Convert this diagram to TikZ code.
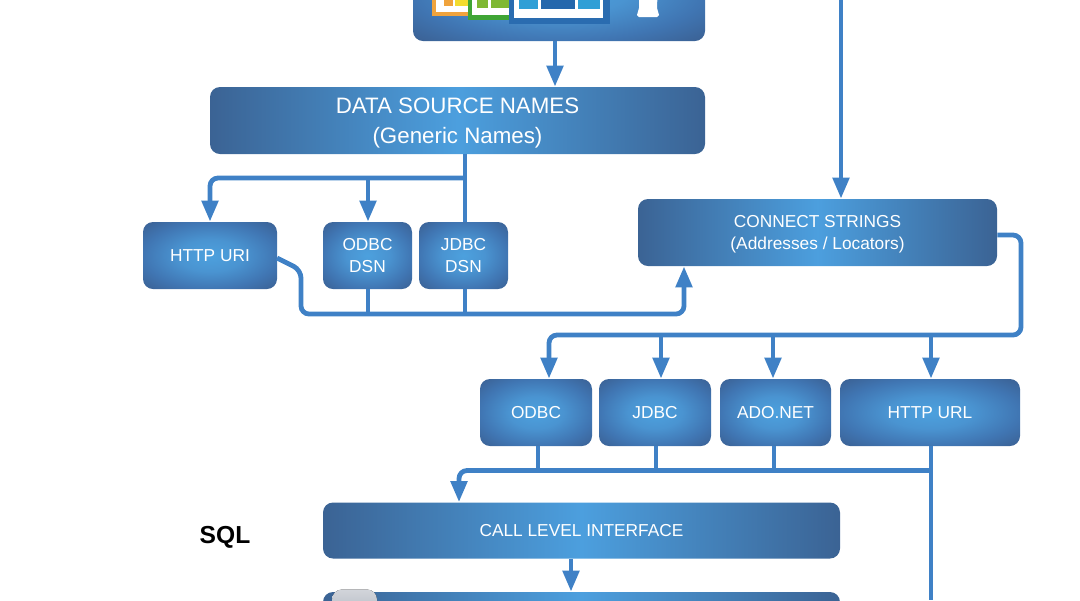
\documentclass[tikz,border=0pt]{standalone}
\usepackage{fontspec}
\setmainfont{Liberation Sans}
\usetikzlibrary{arrows.meta}

\newcommand{\px}{0.02cm}
\definecolor{boxdark}{HTML}{3B6394}
\definecolor{boxlight}{HTML}{4C9FDE}
\definecolor{linkblue}{HTML}{3F81C6}
\definecolor{iconorange}{HTML}{F0A33C}
\definecolor{iconyellow}{HTML}{F3DC2E}
\definecolor{icongreen}{HTML}{3FA535}
\definecolor{iconlime}{HTML}{7FB833}
\definecolor{iconblue}{HTML}{2A6CB0}
\definecolor{iconsky}{HTML}{2F9FD6}
\definecolor{icondeep}{HTML}{2467AC}
\definecolor{knobtop}{HTML}{D2D5DA}
\definecolor{knobbottom}{HTML}{A9B0BC}

\pgfdeclareradialshading{boxglow}{\pgfpoint{0bp}{0bp}}{%
  rgb(0bp)=(0.30,0.63,0.87);
  rgb(12bp)=(0.29,0.58,0.82);
  rgb(25bp)=(0.25,0.46,0.70);
  rgb(35bp)=(0.23,0.38,0.58);
  rgb(50bp)=(0.23,0.38,0.58)}

\tikzset{
  box/.style={rounded corners=10*\px,inner sep=0pt,align=center,text=white,text depth=0pt,font=\fontsize{9.85}{12.8}\selectfont},
  smallbox/.style={box,shading=boxglow},
  widebox/.style={box,left color=boxdark,right color=boxdark,middle color=boxlight},
  link/.style={draw=linkblue,line width=4.8*\px,rounded corners=8*\px},
  arrowlink/.style={link,-{Triangle[length=12pt,width=9.2pt]}},
}

\begin{document}
\begin{tikzpicture}[x=\px,y=-\px]

  \useasboundingbox (0,0) rectangle (1080,600);
  \clip (0,0) rectangle (1080,600);

  % boxes, top to bottom
  \node[smallbox,minimum width=292*\px,minimum height=101*\px] (portal) at (559,-9.5) {};
  \node[widebox,minimum width=495*\px,minimum height=67*\px,font=\fontsize{12.7}{17}\selectfont] (dsn) at (457.5,120.5) {DATA SOURCE NAMES\\(Generic Names)};
  \node[smallbox,minimum width=134*\px,minimum height=67*\px] (httpuri) at (210,255.5) {HTTP URI};
  \node[smallbox,minimum width=89*\px,minimum height=67*\px] (odbcdsn) at (367.5,255.5) {ODBC\\DSN};
  \node[smallbox,minimum width=89*\px,minimum height=67*\px] (jdbcdsn) at (463.5,255.5) {JDBC\\DSN};
  \node[widebox,minimum width=359*\px,minimum height=67*\px] (connect) at (817.5,232.5) {CONNECT STRINGS\\(Addresses / Locators)};
  \node[smallbox,minimum width=112*\px,minimum height=67*\px] (odbc) at (536,412.5) {ODBC};
  \node[smallbox,minimum width=112*\px,minimum height=67*\px] (jdbc) at (655,412.5) {JDBC};
  \node[smallbox,minimum width=111*\px,minimum height=67*\px] (adonet) at (775.5,412.5) {ADO.NET};
  \node[smallbox,minimum width=180*\px,minimum height=67*\px] (httpurl) at (930,412.5) {HTTP URL};
  \node[widebox,minimum width=517*\px,minimum height=56*\px] (cli) at (581.5,530.5) {CALL LEVEL INTERFACE};
  \node[widebox,minimum width=517*\px,minimum height=56*\px] (lower) at (581.5,620) {};
  \node[font=\fontsize{14}{17}\selectfont\bfseries] (sql) at (225,537) {SQL};

  % icons inside the top box
  \fill[iconorange] (432,-5) rectangle (472,16);
  \fill[white] (436,-5) rectangle (472,12);
  \fill[iconorange] (444,-5) rectangle (453,6);
  \fill[iconyellow] (455,-5) rectangle (468,6);
  \fill[icongreen] (468,-5) rectangle (512,19.5);
  \fill[white] (472,-5) rectangle (512,15);
  \fill[iconlime] (477,-5) rectangle (488,8);
  \fill[iconlime] (491,-5) rectangle (512,8);
  \fill[iconblue] (509,-5) rectangle (610,23.5);
  \fill[white] (513.5,-5) rectangle (603,18);
  \fill[iconsky] (519,-5) rectangle (538,9);
  \fill[icondeep] (540.5,-5) rectangle (575,9);
  \fill[iconsky] (577.5,-5) rectangle (600,9);
  \fill[white] (639,-5) -- (657.5,-5) -- (657,8) -- (659,15) -- (657,17) -- (639,17) -- (637,15) -- (639,8) -- cycle;

  % knob sticking out of the lowest box
  \fill[top color=knobtop,bottom color=knobbottom,rounded corners=10*\px] (332,589.5) rectangle (377,625);

  % connectors
  \coordinate (dsnbus) at (465,178);
  \coordinate (dsnbus2) at (368,178);
  \coordinate (returnbus) at (368,314);
  \coordinate (stringbus) at (661,335);
  \coordinate (callbus) at (538,470.5);
  \coordinate (feedtop) at (841,0);
  \coordinate (feedbottom) at (931,600);

  \draw[arrowlink] (portal.south -| 555,0) -- (dsn.north -| 555,0);

  \draw[link] (dsn.south -| dsnbus) -- (jdbcdsn.north -| dsnbus);
  \draw[arrowlink] (dsnbus) -- (httpuri.north |- dsnbus) -- (httpuri.north);
  \draw[arrowlink] (dsnbus2) -- (odbcdsn.north -| dsnbus2);

  \draw[arrowlink] (feedtop) -- (connect.north -| feedtop);

  \draw[arrowlink] (277,258) -- (301,270) -- (301,314) -- (684,314) -- (connect.south -| 684,0);
  \draw[link] (odbcdsn.south -| returnbus) -- (returnbus);
  \draw[link] (jdbcdsn.south -| dsnbus) -- (465,314);

  \draw[arrowlink] (connect.east |- 0,235) -- (1021,235) -- (1021,335) -- (549,335) -- (odbc.north -| 549,0);
  \draw[arrowlink] (stringbus) -- (jdbc.north -| stringbus);
  \draw[arrowlink] (773,335) -- (adonet.north -| 773,0);
  \draw[arrowlink] (931,335) -- (httpurl.north -| 931,0);

  \draw[link] (httpurl.south -| feedbottom) -- (feedbottom);
  \draw[arrowlink] (931,470.5) -- (459,470.5) -- (cli.north -| 459,0);
  \draw[link] (odbc.south -| callbus) -- (callbus);
  \draw[link] (jdbc.south -| 656,0) -- (656,470.5);
  \draw[link] (adonet.south -| 774,0) -- (774,470.5);

  \draw[arrowlink] (cli.south -| 571,0) -- (lower.north -| 571,0);

\end{tikzpicture}
\end{document}
